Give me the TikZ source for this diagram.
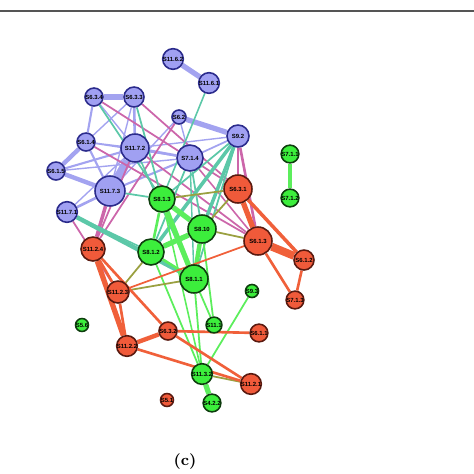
\documentclass[tikz,border=0pt]{standalone}
\usepackage{fontspec}
\setsansfont{Liberation Sans}
\usetikzlibrary{backgrounds}
\definecolor{bfill}{HTML}{A0A0F2}
\definecolor{bdraw}{HTML}{2B2B8C}
\definecolor{gfill}{HTML}{3CEE3C}
\definecolor{gdraw}{HTML}{0E3E0E}
\definecolor{rfill}{HTML}{F05A3A}
\definecolor{rdraw}{HTML}{5A1A10}
\definecolor{bedge}{HTML}{A3A3F0}
\definecolor{pedge}{HTML}{CC66AA}
\definecolor{tedge}{HTML}{5CC8A8}
\definecolor{gedge}{HTML}{5CEE5C}
\definecolor{oedge}{HTML}{9AA040}
\definecolor{redge}{HTML}{F0603A}
\definecolor{rulegray}{HTML}{555555}

\begin{document}
\begin{tikzpicture}[
  x=0.02cm, y=-0.02cm,
  lbl/.style={font=\sffamily\bfseries\fontsize{3.4}{4}\selectfont, text=black},
  bnode/.style={circle, draw=bdraw, fill=bfill, line width=0.9pt,
    inner sep=0pt, minimum size=#1*0.4mm, lbl},
  gnode/.style={circle, draw=gdraw, fill=gfill, line width=0.9pt,
    inner sep=0pt, minimum size=#1*0.4mm, lbl},
  rnode/.style={circle, draw=rdraw, fill=rfill, line width=0.9pt,
    inner sep=0pt, minimum size=#1*0.4mm, lbl},
  be/.style={bedge, line width=#1pt},
  pe/.style={pedge, line width=#1pt},
  te/.style={tedge, line width=#1pt},
  ge/.style={gedge, line width=#1pt},
  oe/.style={oedge, line width=#1pt},
  re/.style={redge, line width=#1pt},
]
\useasboundingbox (0,0) rectangle (474,474);

% Rule at the top
\coordinate (ruleL) at (0,11);
\coordinate (ruleR) at (474,11);
\draw[rulegray, line width=1.2pt] (ruleL) -- (ruleR);

% ---- Blue nodes ----
\foreach \n/\x/\y/\r/\l in {
  s1162/173/59/6/S11.6.2, s1161/209/83/8/S11.6.1,
  s634/94/97/9/S6.3.4, s633/134/97/10/S6.3.3,
  s62/179/117/7/S6.2, s92/238/136/11/S9.2,
  s614/86/142/9/S6.1.4, s1172/135/148/14/S11.7.2,
  s714/190/158/13/S7.1.4, s615/56/171/9/S6.1.5,
  s1173/110/191/15/S11.7.3, s1171/67/212/8/S11.7.1} {
  \node[bnode=\r] (\n) at (\x,\y) {\l};
}

% ---- Green nodes ----
\foreach \n/\x/\y/\r/\l in {
  s813/162/199/13/S8.1.3, s810/202/229/14/S8.10,
  s812/151/252/13/S8.1.2, s811/194/279/14/S8.1.1,
  s711/290/154/5/S7.1.1, s712/290/198/5/S7.1.2,
  s93/252/291/5/S9.3, s111/214/325/7/S11.1,
  s56/82/325/3/S5.6, s1132/202/374/7/S11.3.2,
  s422/212/403/5/S4.2.2} {
  \node[gnode=\r] (\n) at (\x,\y) {\l};
}

% ---- Red nodes ----
\foreach \n/\x/\y/\r/\l in {
  s631/238/189/14/S6.3.1, s613/258/241/14/S6.1.3,
  s612/304/260/10/S6.1.2, s713/295/300/6/S7.1.3,
  s1124/93/249/12/S11.2.4, s1123/118/292/11/S11.2.3,
  s632/168/331/9/S6.3.2, s611/259/333/8/S6.1.1,
  s1122/127/346/8/S11.2.2, s1121/251/384/6/S11.2.1,
  s51/167/400/4/S5.1} {
  \node[rnode=\r] (\n) at (\x,\y) {\l};
}

\begin{pgfonlayer}{background}
% Blue links
\foreach \a/\b/\w in {s1162/s1161/3, s634/s633/3.5, s62/s92/3,
  s634/s614/1.2, s633/s1172/1.5, s614/s615/2.5, s615/s1173/2.5,
  s614/s1173/1.2, s1172/s1173/5, s1172/s714/1.5, s1173/s1171/1.5,
  s615/s1172/1.2, s614/s1172/0.8, s634/s1172/0.8, s633/s614/0.8,
  s92/s714/1, s92/s1172/0.8, s62/s1173/0.8, s714/s1173/1.2,
  s615/s714/0.8, s1171/s1172/0.8, s62/s714/0.8, s633/s1173/0.8,
  s614/s714/0.8} {
  \draw[be=\w] (\a) -- (\b);
}
% Pink links
\foreach \a/\b/\w in {s634/s631/1, s633/s631/1, s614/s613/1,
  s1172/s613/1, s1173/s1124/2, s1172/s1124/1, s62/s1124/1,
  s1171/s1123/1, s92/s613/1.5, s92/s631/1.2, s714/s613/0.9} {
  \draw[pe=\w] (\a) -- (\b);
}
% Teal links
\foreach \a/\b/\w in {s1161/s813/0.9, s634/s813/1, s633/s813/1,
  s92/s812/2, s92/s810/2, s92/s813/1, s92/s811/1, s1171/s811/2.5,
  s1173/s813/1, s1171/s812/0.9, s714/s812/1, s714/s810/1,
  s1172/s811/0.9, s714/s811/0.8} {
  \draw[te=\w] (\a) -- (\b);
}
% Green links
\foreach \a/\b/\w in {s813/s810/3, s813/s811/3, s812/s810/3,
  s810/s811/2.5, s813/s812/1.5, s812/s811/1.5, s711/s712/2,
  s812/s1132/1, s811/s1132/1, s813/s1132/0.9, s811/s111/1,
  s810/s111/1, s93/s1132/1, s1132/s422/3} {
  \draw[ge=\w] (\a) -- (\b);
}
% Olive links
\foreach \a/\b/\w in {s813/s631/1, s810/s613/1, s812/s1123/1,
  s810/s631/1, s811/s1123/1, s1132/s1121/1} {
  \draw[oe=\w] (\a) -- (\b);
}
% Red links
\foreach \a/\b/\w in {s631/s613/3, s631/s612/2, s613/s612/4.5,
  s613/s713/1.5, s612/s713/1.5, s1124/s1123/1.5, s1124/s1122/3,
  s1123/s1122/1.5, s1124/s632/1.5, s1122/s632/2.5, s632/s611/1.5,
  s632/s1121/1.5, s1122/s1121/1.5, s1123/s613/1} {
  \draw[re=\w] (\a) -- (\b);
}
\end{pgfonlayer}

% Caption
\node[font=\bfseries\fontsize{9}{10}\selectfont] (caption) at (185,462) {(c)};

\end{tikzpicture}
\end{document}
